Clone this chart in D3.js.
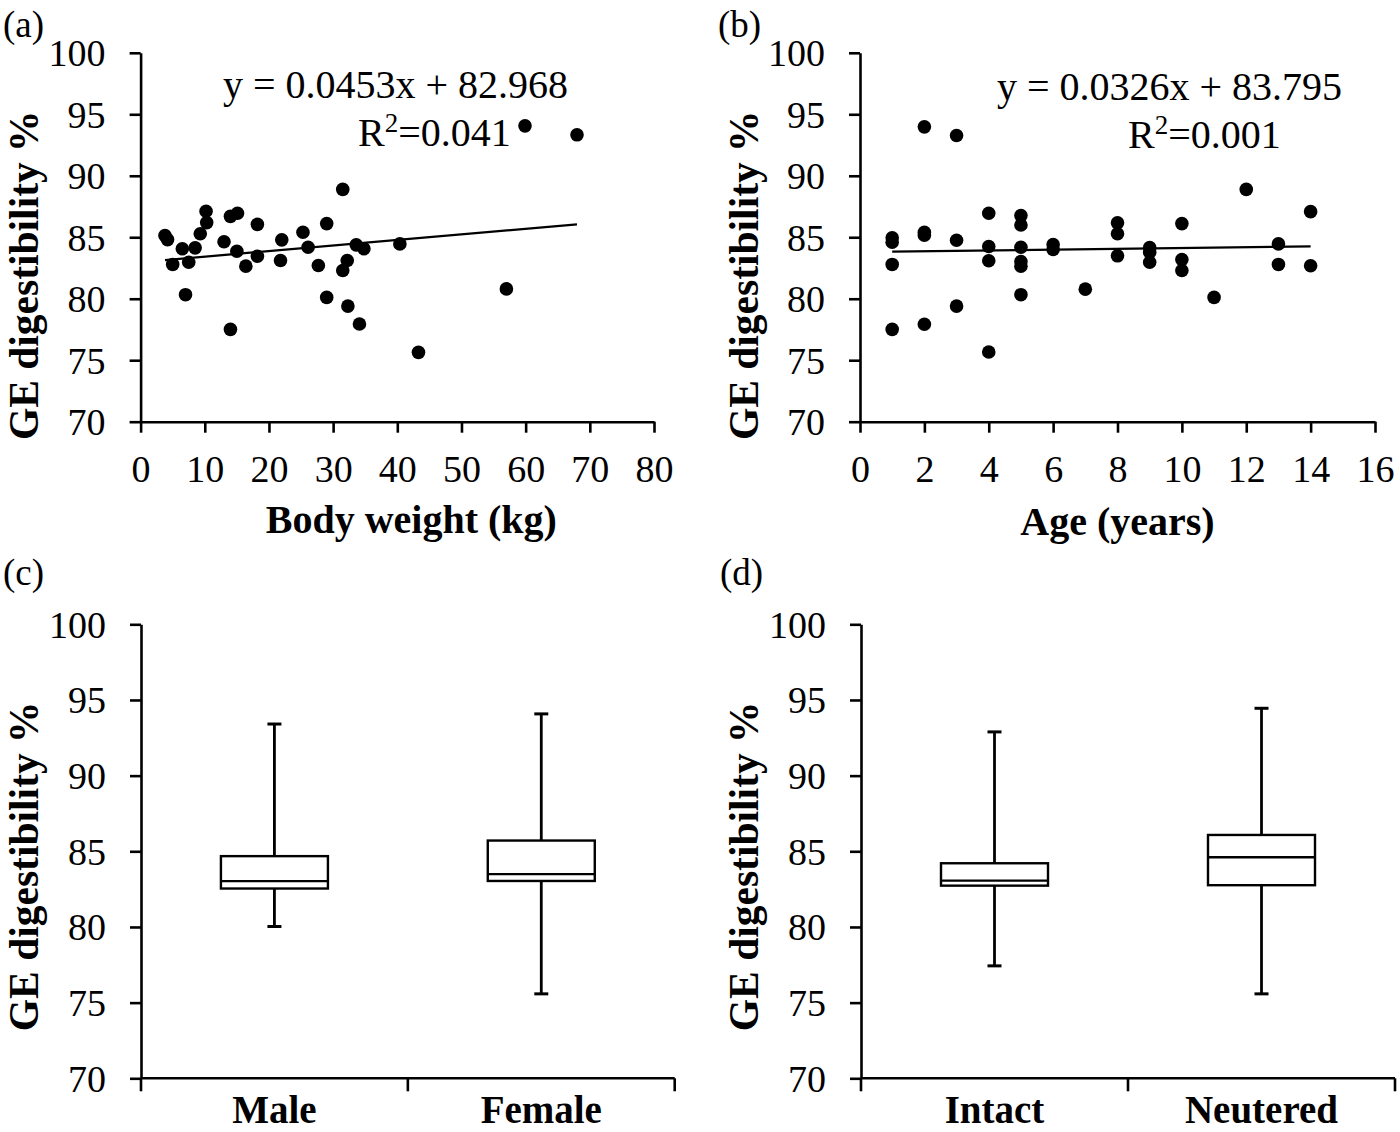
<!DOCTYPE html>
<html>
<head>
<meta charset="utf-8">
<script src="https://cdn.jsdelivr.net/npm/d3@7"></script>
<style>
  html, body { margin: 0; padding: 0; background: #fff; }
  svg { display: block; }
</style>
</head>
<body>
<svg id="chart" width="1400" height="1132"></svg>
<script>
// ---------------- DATA ----------------
// (a) body weight (kg) vs GE digestibility %
const bodyWeight = [3.8, 4.2, 5.0, 6.5, 7.0, 7.5, 8.5, 9.3, 10.2, 10.3, 13.0, 14.0, 14.0, 15.1, 15.0, 16.4, 18.2, 18.2,
  21.8, 22.0, 25.3, 26.1, 27.7, 29.0, 29.0, 31.5, 31.5, 32.2, 32.3, 33.6, 34.1, 34.8, 40.4, 43.3, 57.0, 59.9, 68.0];
const geByWeight = [85.14, 84.81, 82.79, 84.06, 80.33, 82.97, 84.14, 85.28, 87.11, 86.19, 84.63, 77.51, 86.70, 86.95, 83.86, 82.65, 86.05, 83.46,
  83.11, 84.79, 85.41, 84.19, 82.70, 86.11, 80.11, 88.89, 82.30, 83.11, 79.40, 84.38, 77.94, 84.06, 84.46, 75.64, 80.80, 94.06, 93.33];
const trendWeight = [0.0453, 82.968];   // slope, intercept
const eqWeight = ["y = 0.0453x + 82.968", "0.041"];

// (b) age (years) vs GE digestibility %
const ageYears = [1, 1, 1, 1, 2, 2, 2, 2, 3, 3, 3, 4, 4, 4, 4, 5, 5, 5, 5, 5, 5, 6, 6, 7, 8, 8, 8, 9, 9, 9, 10, 10, 10, 11, 12, 13, 13, 14, 14];
const geByAge = [84.95, 84.6, 82.79, 77.51, 93.98, 85.4, 85.16, 77.92, 93.27, 84.76, 79.40, 86.95, 84.25, 83.09, 75.67,
  86.76, 86.0, 84.19, 83.03, 82.65, 80.33, 84.41, 84.0, 80.78, 86.17, 85.28, 83.49, 84.16, 83.78, 82.97, 86.11, 83.19, 82.30,
  80.11, 88.89, 84.46, 82.79, 87.08, 82.68];
const trendAge = [0.0326, 83.795];
const eqAge = ["y = 0.0326x + 83.795", "0.001"];

// (c) sex box plot
const sexCategories = ["Male", "Female"];
const sexMin = [80.03, 75.58];
const sexQ1 = [82.54, 83.04];
const sexMedian = [83.03, 83.49];
const sexQ3 = [84.68, 85.71];
const sexMax = [93.41, 94.08];

// (d) reproductive status box plot
const statusCategories = ["Intact", "Neutered"];
const statusMin = [77.43, 75.58];
const statusQ1 = [82.73, 82.76];
const statusMedian = [83.06, 84.61];
const statusQ3 = [84.21, 86.08];
const statusMax = [92.89, 94.45];

const yTicks = [70, 75, 80, 85, 90, 95, 100];
const weightTicks = [0, 10, 20, 30, 40, 50, 60, 70, 80];
const ageTicks = [0, 2, 4, 6, 8, 10, 12, 14, 16];
const yTitle = "GE digestibility %";

// ---------------- DRAW ----------------
const FONT = "'Liberation Serif','Times New Roman',serif";
const svg = d3.select("#chart");
svg.append("rect").attr("width", 1400).attr("height", 1132).attr("fill", "#fff");

function styleAxis(g) {
  g.selectAll("path.domain").attr("stroke", "#000").attr("stroke-width", 2.6);
  g.selectAll(".tick line").attr("stroke", "#000").attr("stroke-width", 2.6);
  g.selectAll(".tick text").attr("font-family", FONT).attr("font-size", 38).attr("fill", "#000");
}

function yAxis(y, x0, titleX, titleShift) {
  const g = svg.append("g").attr("transform", `translate(${x0},0)`)
    .call(d3.axisLeft(y).tickValues(yTicks).tickSize(11).tickSizeOuter(0).tickPadding(24));
  styleAxis(g);
  g.selectAll(".tick text").attr("dy", "0.34em");
  const [r0, r1] = y.range();
  svg.append("text")
    .attr("transform", `translate(${titleX},${(r0 + r1) / 2 + titleShift}) rotate(-90)`)
    .attr("text-anchor", "middle")
    .attr("font-family", FONT).attr("font-size", 41.5).attr("font-weight", "bold")
    .text(yTitle);
}

function panelLabel(t, x, y) {
  svg.append("text").attr("x", x).attr("y", y)
    .attr("font-family", FONT).attr("font-size", 37).text(t);
}

function scatterPanel(opt) {
  const x = d3.scaleLinear().domain(opt.xDomain).range(opt.xRange);
  const y = d3.scaleLinear().domain([70, 100]).range(opt.yRange);
  // x axis
  const gx = svg.append("g").attr("transform", `translate(0,${opt.yRange[0]})`)
    .call(d3.axisBottom(x).tickValues(opt.xTicks).tickSize(11).tickSizeOuter(0).tickPadding(22));
  styleAxis(gx);
  yAxis(y, opt.xRange[0], opt.titleX, 38);
  // axis title
  svg.append("text").attr("x", (opt.xRange[0] + opt.xRange[1]) / 2 + opt.xTitleShift).attr("y", opt.xTitleY)
    .attr("text-anchor", "middle").attr("font-family", FONT).attr("font-size", 40)
    .attr("font-weight", "bold").text(opt.xTitle);
  // points
  svg.append("g").selectAll("circle").data(opt.xs).join("circle")
    .attr("cx", d => x(d)).attr("cy", (d, i) => y(opt.ys[i])).attr("r", 6.8).attr("fill", "#000");
  // trend line
  const xMin = d3.min(opt.xs), xMax = d3.max(opt.xs);
  const f = v => opt.trend[0] * v + opt.trend[1];
  svg.append("line")
    .attr("x1", x(xMin)).attr("y1", y(f(xMin)))
    .attr("x2", x(xMax)).attr("y2", y(f(xMax)))
    .attr("stroke", "#000").attr("stroke-width", 2.2);
  // equation
  svg.append("text").attr("x", opt.eqX).attr("y", opt.eqY)
    .attr("font-family", FONT).attr("font-size", 40).text(opt.eq[0]);
  const r = svg.append("text").attr("x", opt.r2X).attr("y", opt.eqY + 48)
    .attr("font-family", FONT).attr("font-size", 40);
  r.append("tspan").text("R");
  r.append("tspan").attr("font-size", 27).attr("dy", -14).text("2");
  r.append("tspan").attr("dy", 14).text("=" + opt.eq[1]);
  panelLabel(opt.label, opt.labelX, 37);
}

function boxPanel(opt) {
  const x = d3.scaleBand().domain(opt.cats).range(opt.xRange).paddingInner(0).paddingOuter(0);
  const y = d3.scaleLinear().domain([70, 100]).range(opt.yRange);
  // x axis line with boundary ticks
  const g = svg.append("g");
  g.append("line").attr("x1", opt.xRange[0]).attr("x2", opt.xRange[1])
    .attr("y1", opt.yRange[0]).attr("y2", opt.yRange[0]).attr("stroke", "#000").attr("stroke-width", 2.6);
  const bounds = [opt.xRange[0]].concat(opt.cats.map(c => x(c) + x.bandwidth()));
  g.selectAll("line.bt").data(bounds).join("line").attr("class", "bt")
    .attr("x1", d => d).attr("x2", d => d).attr("y1", opt.yRange[0]).attr("y2", opt.yRange[0] + 13)
    .attr("stroke", "#000").attr("stroke-width", 2.6);
  g.selectAll("text.cat").data(opt.cats).join("text").attr("class", "cat")
    .attr("x", d => x(d) + x.bandwidth() / 2).attr("y", opt.yRange[0] + 45)
    .attr("text-anchor", "middle").attr("font-family", FONT).attr("font-size", 39)
    .attr("font-weight", "bold").text(d => d);
  yAxis(y, opt.xRange[0], opt.titleX, 15);
  const bw = 107, cap = 14;
  const boxes = svg.append("g").selectAll("g").data(opt.cats).join("g")
    .attr("transform", d => `translate(${x(d) + x.bandwidth() / 2},0)`);
  boxes.append("line").attr("x1", 0).attr("x2", 0)
    .attr("y1", (d, i) => y(opt.max[i])).attr("y2", (d, i) => y(opt.q3[i]))
    .attr("stroke", "#000").attr("stroke-width", 2.8);
  boxes.append("line").attr("x1", 0).attr("x2", 0)
    .attr("y1", (d, i) => y(opt.q1[i])).attr("y2", (d, i) => y(opt.min[i]))
    .attr("stroke", "#000").attr("stroke-width", 2.8);
  boxes.append("line").attr("x1", -cap / 2).attr("x2", cap / 2)
    .attr("y1", (d, i) => y(opt.max[i])).attr("y2", (d, i) => y(opt.max[i]))
    .attr("stroke", "#000").attr("stroke-width", 3);
  boxes.append("line").attr("x1", -cap / 2).attr("x2", cap / 2)
    .attr("y1", (d, i) => y(opt.min[i])).attr("y2", (d, i) => y(opt.min[i]))
    .attr("stroke", "#000").attr("stroke-width", 3);
  boxes.append("rect").attr("x", -bw / 2).attr("width", bw)
    .attr("y", (d, i) => y(opt.q3[i])).attr("height", (d, i) => y(opt.q1[i]) - y(opt.q3[i]))
    .attr("fill", "#fff").attr("stroke", "#000").attr("stroke-width", 2.4);
  boxes.append("line").attr("x1", -bw / 2).attr("x2", bw / 2)
    .attr("y1", (d, i) => y(opt.med[i])).attr("y2", (d, i) => y(opt.med[i]))
    .attr("stroke", "#000").attr("stroke-width", 2.4);
  panelLabel(opt.label, opt.labelX, 585);
}

scatterPanel({
  xs: bodyWeight, ys: geByWeight, trend: trendWeight, eq: eqWeight,
  xDomain: [0, 80], xRange: [140.6, 654], yRange: [421.7, 52.8], xTicks: weightTicks,
  xTitle: "Body weight (kg)", xTitleY: 533, xTitleShift: 14, titleX: 38,
  eqX: 223, eqY: 98, r2X: 358, label: "(a)", labelX: 3
});
scatterPanel({
  xs: ageYears, ys: geByAge, trend: trendAge, eq: eqAge,
  xDomain: [0, 16], xRange: [860, 1375], yRange: [421.7, 52.8], xTicks: ageTicks,
  xTitle: "Age (years)", xTitleY: 535, xTitleShift: 0, titleX: 758,
  eqX: 997, eqY: 100, r2X: 1128, label: "(b)", labelX: 718
});
boxPanel({
  cats: sexCategories, min: sexMin, q1: sexQ1, med: sexMedian, q3: sexQ3, max: sexMax,
  xRange: [141, 674.7], yRange: [1078.3, 624.3], titleX: 38, label: "(c)", labelX: 3
});
boxPanel({
  cats: statusCategories, min: statusMin, q1: statusQ1, med: statusMedian, q3: statusQ3, max: statusMax,
  xRange: [861, 1395], yRange: [1078.3, 624.3], titleX: 758, label: "(d)", labelX: 720
});
</script>
</body>
</html>
